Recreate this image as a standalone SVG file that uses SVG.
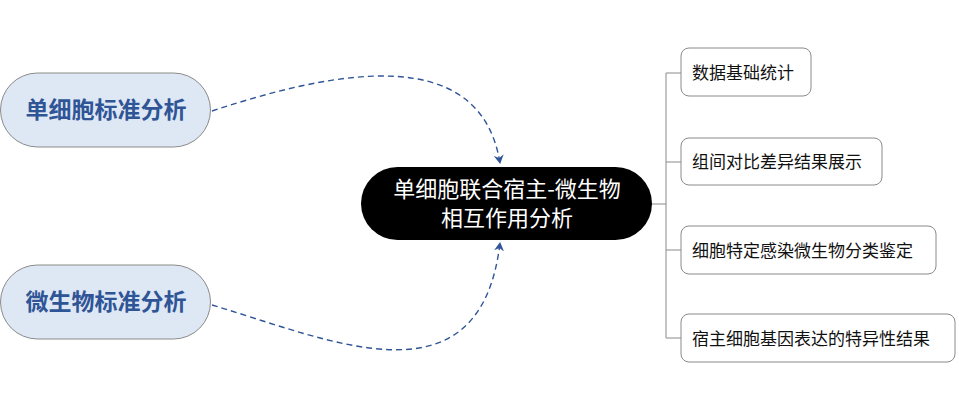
<svg xmlns="http://www.w3.org/2000/svg" width="959" height="414" viewBox="0 0 959 414">
<style>
.l{fill:#dee8f4;stroke:#8a8a8a;stroke-width:1}
.lt{font-family:"Noto Sans CJK SC",sans-serif;font-size:23px;font-weight:bold;fill:#2f5597}
.r{fill:#fff;stroke:#8a8a8a;stroke-width:1}
.rt{font-family:"Noto Sans CJK SC",sans-serif;font-size:17px;fill:#111}
.c{fill:none;stroke:#2f5597;stroke-width:1.4;stroke-dasharray:6,4}
.t{fill:none;stroke:#8a8a8a;stroke-width:1}
</style>
<defs><marker id="a" markerWidth="10" markerHeight="10" refX="8" refY="5" orient="auto" markerUnits="userSpaceOnUse"><path d="M0,0 L9,5 L0,10 L3,5 Z" fill="#2f5597"/></marker></defs>
<rect width="959" height="414" fill="#fff"/>
<g id="connectors">
<path class="c" d="M212,111 C330,72 480,40 500,163" marker-end="url(#a)"/>
<path class="c" d="M212,305 C330,340 480,410 500,243" marker-end="url(#a)"/>
<path class="t" d="M652,204 H666 M666,73 V338 M666,73 H681 M666,162 H681 M666,250 H681 M666,338 H681"/>
</g>
<g id="center"><rect x="361" y="167" width="291" height="73" rx="36.5" fill="#000"/>
<text x="507" y="197" text-anchor="middle" font-family="Noto Sans CJK SC,sans-serif" font-size="22" fill="#fff">单细胞联合宿主-微生物</text>
<text x="507" y="226" text-anchor="middle" font-family="Noto Sans CJK SC,sans-serif" font-size="22" fill="#fff">相互作用分析</text></g>
<g id="n1"><rect class="l" x="0.5" y="73" width="210" height="74" rx="37"/><text class="lt" x="106" y="118" text-anchor="middle">单细胞标准分析</text></g>
<g id="n2"><rect class="l" x="0.5" y="265" width="210" height="74" rx="37"/><text class="lt" x="106" y="310" text-anchor="middle">微生物标准分析</text></g>
<g id="r1"><rect class="r" x="681" y="48" width="130" height="48" rx="8"/><text class="rt" x="692" y="79">数据基础统计</text></g>
<g id="r2"><rect class="r" x="681" y="138" width="201" height="47" rx="8"/><text class="rt" x="692" y="168">组间对比差异结果展示</text></g>
<g id="r3"><rect class="r" x="681" y="226" width="255" height="48" rx="8"/><text class="rt" x="692" y="257">细胞特定感染微生物分类鉴定</text></g>
<g id="r4"><rect class="r" x="681" y="314" width="274" height="48" rx="8"/><text class="rt" x="692" y="345">宿主细胞基因表达的特异性结果</text></g>
</svg>
